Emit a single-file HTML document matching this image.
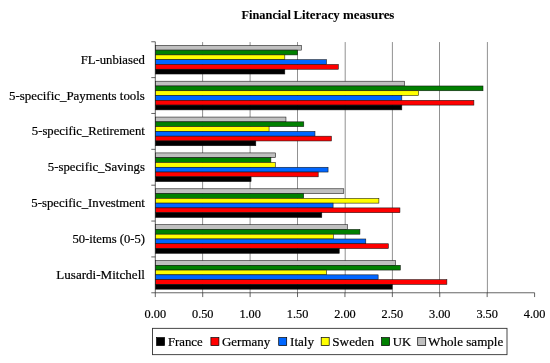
<!DOCTYPE html>
<html><head><meta charset="utf-8"><title>Financial Literacy measures</title>
<style>html,body{margin:0;padding:0;background:#fff}svg{display:block}text{font-family:"Liberation Serif",serif;fill:#000;stroke:#000;stroke-width:0.2px}</style>
</head><body>
<svg width="550" height="363" viewBox="0 0 550 363">
<rect width="550" height="363" fill="#fff"/>
<text y="18.8" font-size="12.5" font-weight="bold" style="stroke-width:0.08px"><tspan x="241.5" textLength="49.4" lengthAdjust="spacingAndGlyphs">Financial</tspan> <tspan x="293.4" textLength="46.4" lengthAdjust="spacingAndGlyphs">Literacy</tspan> <tspan x="343.0" textLength="51.4" lengthAdjust="spacingAndGlyphs">measures</tspan></text>
<line x1="202.60" y1="42.05" x2="202.60" y2="292.77" stroke="#222" stroke-width="0.5"/>
<line x1="250.10" y1="42.05" x2="250.10" y2="292.77" stroke="#222" stroke-width="0.5"/>
<line x1="297.50" y1="42.05" x2="297.50" y2="292.77" stroke="#222" stroke-width="0.5"/>
<line x1="345.20" y1="42.05" x2="345.20" y2="292.77" stroke="#222" stroke-width="0.5"/>
<line x1="392.40" y1="42.05" x2="392.40" y2="292.77" stroke="#222" stroke-width="0.5"/>
<line x1="439.50" y1="42.05" x2="439.50" y2="292.77" stroke="#222" stroke-width="0.5"/>
<line x1="487.40" y1="42.05" x2="487.40" y2="292.77" stroke="#222" stroke-width="0.5"/>
<rect x="155.30" y="45.34" width="146.02" height="4.78" fill="#c0c0c0" stroke="#111" stroke-width="0.55"/>
<rect x="155.30" y="50.12" width="142.23" height="4.78" fill="#008000" stroke="#111" stroke-width="0.55"/>
<rect x="155.30" y="54.90" width="129.52" height="4.78" fill="#ffff00" stroke="#111" stroke-width="0.55"/>
<rect x="155.30" y="59.68" width="171.15" height="4.78" fill="#0066ff" stroke="#111" stroke-width="0.55"/>
<rect x="155.30" y="64.46" width="183.00" height="4.78" fill="#ff0000" stroke="#111" stroke-width="0.55"/>
<rect x="155.30" y="69.24" width="129.52" height="4.78" fill="#000000" stroke="#111" stroke-width="0.55"/>
<rect x="155.30" y="81.20" width="249.28" height="4.78" fill="#c0c0c0" stroke="#111" stroke-width="0.55"/>
<rect x="155.30" y="85.98" width="327.70" height="4.78" fill="#008000" stroke="#111" stroke-width="0.55"/>
<rect x="155.30" y="90.76" width="263.32" height="4.78" fill="#ffff00" stroke="#111" stroke-width="0.55"/>
<rect x="155.30" y="95.54" width="246.53" height="4.78" fill="#0066ff" stroke="#111" stroke-width="0.55"/>
<rect x="155.30" y="100.32" width="318.60" height="4.78" fill="#ff0000" stroke="#111" stroke-width="0.55"/>
<rect x="155.30" y="105.10" width="246.53" height="4.78" fill="#000000" stroke="#111" stroke-width="0.55"/>
<rect x="155.30" y="117.06" width="130.66" height="4.78" fill="#c0c0c0" stroke="#111" stroke-width="0.55"/>
<rect x="155.30" y="121.84" width="148.49" height="4.78" fill="#008000" stroke="#111" stroke-width="0.55"/>
<rect x="155.30" y="126.62" width="113.78" height="4.78" fill="#ffff00" stroke="#111" stroke-width="0.55"/>
<rect x="155.30" y="131.40" width="159.68" height="4.78" fill="#0066ff" stroke="#111" stroke-width="0.55"/>
<rect x="155.30" y="136.18" width="176.08" height="4.78" fill="#ff0000" stroke="#111" stroke-width="0.55"/>
<rect x="155.30" y="140.96" width="100.51" height="4.78" fill="#000000" stroke="#111" stroke-width="0.55"/>
<rect x="155.30" y="152.92" width="120.42" height="4.78" fill="#c0c0c0" stroke="#111" stroke-width="0.55"/>
<rect x="155.30" y="157.70" width="115.59" height="4.78" fill="#008000" stroke="#111" stroke-width="0.55"/>
<rect x="155.30" y="162.48" width="119.95" height="4.78" fill="#ffff00" stroke="#111" stroke-width="0.55"/>
<rect x="155.30" y="167.26" width="172.76" height="4.78" fill="#0066ff" stroke="#111" stroke-width="0.55"/>
<rect x="155.30" y="172.04" width="162.90" height="4.78" fill="#ff0000" stroke="#111" stroke-width="0.55"/>
<rect x="155.30" y="176.82" width="95.77" height="4.78" fill="#000000" stroke="#111" stroke-width="0.55"/>
<rect x="155.30" y="188.78" width="188.50" height="4.78" fill="#c0c0c0" stroke="#111" stroke-width="0.55"/>
<rect x="155.30" y="193.56" width="148.39" height="4.78" fill="#008000" stroke="#111" stroke-width="0.55"/>
<rect x="155.30" y="198.34" width="223.59" height="4.78" fill="#ffff00" stroke="#111" stroke-width="0.55"/>
<rect x="155.30" y="203.12" width="177.79" height="4.78" fill="#0066ff" stroke="#111" stroke-width="0.55"/>
<rect x="155.30" y="207.90" width="244.64" height="4.78" fill="#ff0000" stroke="#111" stroke-width="0.55"/>
<rect x="155.30" y="212.68" width="166.50" height="4.78" fill="#000000" stroke="#111" stroke-width="0.55"/>
<rect x="155.30" y="224.64" width="192.20" height="4.78" fill="#c0c0c0" stroke="#111" stroke-width="0.55"/>
<rect x="155.30" y="229.42" width="204.62" height="4.78" fill="#008000" stroke="#111" stroke-width="0.55"/>
<rect x="155.30" y="234.20" width="178.07" height="4.78" fill="#ffff00" stroke="#111" stroke-width="0.55"/>
<rect x="155.30" y="238.98" width="210.50" height="4.78" fill="#0066ff" stroke="#111" stroke-width="0.55"/>
<rect x="155.30" y="243.76" width="233.07" height="4.78" fill="#ff0000" stroke="#111" stroke-width="0.55"/>
<rect x="155.30" y="248.54" width="183.95" height="4.78" fill="#000000" stroke="#111" stroke-width="0.55"/>
<rect x="155.30" y="260.50" width="240.18" height="4.78" fill="#c0c0c0" stroke="#111" stroke-width="0.55"/>
<rect x="155.30" y="265.28" width="245.01" height="4.78" fill="#008000" stroke="#111" stroke-width="0.55"/>
<rect x="155.30" y="270.06" width="171.24" height="4.78" fill="#ffff00" stroke="#111" stroke-width="0.55"/>
<rect x="155.30" y="274.84" width="222.83" height="4.78" fill="#0066ff" stroke="#111" stroke-width="0.55"/>
<rect x="155.30" y="279.62" width="291.57" height="4.78" fill="#ff0000" stroke="#111" stroke-width="0.55"/>
<rect x="155.30" y="284.40" width="236.86" height="4.78" fill="#000000" stroke="#111" stroke-width="0.55"/>
<line x1="155.30" y1="41.75" x2="155.30" y2="292.77" stroke="#222" stroke-width="0.7"/>
<line x1="155.30" y1="292.77" x2="534.58" y2="292.77" stroke="#222" stroke-width="0.7"/>
<line x1="151.30" y1="41.75" x2="155.30" y2="41.75" stroke="#222" stroke-width="0.7"/>
<line x1="151.30" y1="77.61" x2="155.30" y2="77.61" stroke="#222" stroke-width="0.7"/>
<line x1="151.30" y1="113.47" x2="155.30" y2="113.47" stroke="#222" stroke-width="0.7"/>
<line x1="151.30" y1="149.33" x2="155.30" y2="149.33" stroke="#222" stroke-width="0.7"/>
<line x1="151.30" y1="185.19" x2="155.30" y2="185.19" stroke="#222" stroke-width="0.7"/>
<line x1="151.30" y1="221.05" x2="155.30" y2="221.05" stroke="#222" stroke-width="0.7"/>
<line x1="151.30" y1="256.91" x2="155.30" y2="256.91" stroke="#222" stroke-width="0.7"/>
<line x1="151.30" y1="292.77" x2="155.30" y2="292.77" stroke="#222" stroke-width="0.7"/>
<line x1="155.30" y1="292.77" x2="155.30" y2="297.07" stroke="#222" stroke-width="0.7"/>
<line x1="202.71" y1="292.77" x2="202.71" y2="297.07" stroke="#222" stroke-width="0.7"/>
<line x1="250.12" y1="292.77" x2="250.12" y2="297.07" stroke="#222" stroke-width="0.7"/>
<line x1="297.53" y1="292.77" x2="297.53" y2="297.07" stroke="#222" stroke-width="0.7"/>
<line x1="344.94" y1="292.77" x2="344.94" y2="297.07" stroke="#222" stroke-width="0.7"/>
<line x1="392.35" y1="292.77" x2="392.35" y2="297.07" stroke="#222" stroke-width="0.7"/>
<line x1="439.76" y1="292.77" x2="439.76" y2="297.07" stroke="#222" stroke-width="0.7"/>
<line x1="487.17" y1="292.77" x2="487.17" y2="297.07" stroke="#222" stroke-width="0.7"/>
<line x1="534.58" y1="292.77" x2="534.58" y2="297.07" stroke="#222" stroke-width="0.7"/>
<text x="80.7" y="63.7" font-size="12.5" textLength="64.2" lengthAdjust="spacingAndGlyphs">FL-unbiased</text>
<text x="9.1" y="99.5" font-size="12.5" textLength="135.8" lengthAdjust="spacingAndGlyphs">5-specific_Payments tools</text>
<text x="31.8" y="135.4" font-size="12.5" textLength="113.1" lengthAdjust="spacingAndGlyphs">5-specific_Retirement</text>
<text x="47.8" y="171.3" font-size="12.5" textLength="97.1" lengthAdjust="spacingAndGlyphs">5-specific_Savings</text>
<text x="31.3" y="207.1" font-size="12.5" textLength="113.6" lengthAdjust="spacingAndGlyphs">5-specific_Investment</text>
<text x="72.5" y="243.0" font-size="12.5" textLength="72.4" lengthAdjust="spacingAndGlyphs">50-items (0-5)</text>
<text x="56.3" y="278.8" font-size="12.5" textLength="88.6" lengthAdjust="spacingAndGlyphs">Lusardi-Mitchell</text>
<text x="144.6" y="318.0" font-size="12.5" textLength="21.5" lengthAdjust="spacingAndGlyphs">0.00</text>
<text x="192.0" y="318.0" font-size="12.5" textLength="21.5" lengthAdjust="spacingAndGlyphs">0.50</text>
<text x="239.4" y="318.0" font-size="12.5" textLength="21.5" lengthAdjust="spacingAndGlyphs">1.00</text>
<text x="286.8" y="318.0" font-size="12.5" textLength="21.5" lengthAdjust="spacingAndGlyphs">1.50</text>
<text x="334.2" y="318.0" font-size="12.5" textLength="21.5" lengthAdjust="spacingAndGlyphs">2.00</text>
<text x="381.6" y="318.0" font-size="12.5" textLength="21.5" lengthAdjust="spacingAndGlyphs">2.50</text>
<text x="429.0" y="318.0" font-size="12.5" textLength="21.5" lengthAdjust="spacingAndGlyphs">3.00</text>
<text x="476.4" y="318.0" font-size="12.5" textLength="21.5" lengthAdjust="spacingAndGlyphs">3.50</text>
<text x="523.8" y="318.0" font-size="12.5" textLength="21.5" lengthAdjust="spacingAndGlyphs">4.00</text>
<rect x="152.5" y="328.35" width="354.5" height="26.3" fill="#fff" stroke="#333" stroke-width="0.9"/>
<rect x="156.6" y="337.6" width="8.0" height="8.0" fill="#000000" stroke="#000" stroke-width="0.7"/>
<text x="167.9" y="345.7" font-size="12.5" textLength="34.8" lengthAdjust="spacingAndGlyphs">France</text>
<rect x="210.9" y="337.6" width="8.0" height="8.0" fill="#ff0000" stroke="#000" stroke-width="0.7"/>
<text x="222.0" y="345.7" font-size="12.5" textLength="48.1" lengthAdjust="spacingAndGlyphs">Germany</text>
<rect x="278.7" y="337.6" width="8.0" height="8.0" fill="#0066ff" stroke="#000" stroke-width="0.7"/>
<text x="290.0" y="345.7" font-size="12.5" textLength="24.1" lengthAdjust="spacingAndGlyphs">Italy</text>
<rect x="321.2" y="337.6" width="8.0" height="8.0" fill="#ffff00" stroke="#000" stroke-width="0.7"/>
<text x="332.3" y="345.7" font-size="12.5" textLength="41.7" lengthAdjust="spacingAndGlyphs">Sweden</text>
<rect x="381.6" y="337.6" width="8.0" height="8.0" fill="#008000" stroke="#000" stroke-width="0.7"/>
<text x="392.7" y="345.7" font-size="12.5" textLength="18.4" lengthAdjust="spacingAndGlyphs">UK</text>
<rect x="417.7" y="337.6" width="8.0" height="8.0" fill="#c0c0c0" stroke="#000" stroke-width="0.7"/>
<text x="428.1" y="345.7" font-size="12.5" textLength="75.2" lengthAdjust="spacingAndGlyphs">Whole sample</text>
</svg>
</body></html>
